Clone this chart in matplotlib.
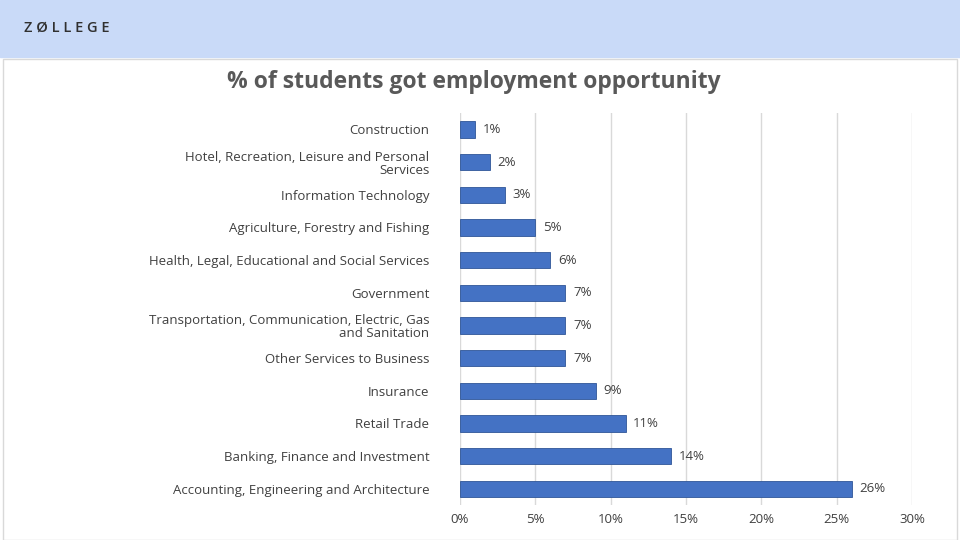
import matplotlib
matplotlib.use("Agg")
import matplotlib.pyplot as plt
from matplotlib.patches import Rectangle

categories = ["Construction", "Hotel, Recreation, Leisure and Personal\nServices",
              "Information Technology", "Agriculture, Forestry and Fishing",
              "Health, Legal, Educational and Social Services", "Government",
              "Transportation, Communication, Electric, Gas\nand Sanitation",
              "Other Services to Business", "Insurance", "Retail Trade",
              "Banking, Finance and Investment", "Accounting, Engineering and Architecture"]
values = [1, 2, 3, 5, 6, 7, 7, 7, 9, 11, 14, 26]
xticks = [0, 5, 10, 15, 20, 25, 30]

plt.rcParams['font.family'] = ['Open Sans', 'DejaVu Sans']
fig = plt.figure(figsize=(9.6, 5.4), dpi=100)
fig.patches.append(Rectangle((0, 1 - 57/540), 1, 57/540, transform=fig.transFigure,
                             color='#c9daf8', zorder=-10))
fig.patches.append(Rectangle((3/960, 0), 954/960, (540-59)/540, transform=fig.transFigure,
                             facecolor='white', edgecolor='#d9d9d9', lw=1, zorder=-10))
fig.text(24/960, 1 - 28/540, "Z Ø L L E G E", fontsize=10.5, color='#303030', va='center',
         fontweight='semibold')
fig.text(474/960, 1 - 82/540, "% of students got employment opportunity", fontsize=16.5,
         fontweight='bold', color='#595959', ha='center', va='center')

ax = fig.add_axes([460/960, 1 - 505/540, (912-460)/960, (505-113)/540])
ax.patch.set_alpha(0)
y = list(range(len(categories)))
ax.barh(y, values, height=0.5, color='#4472c4', edgecolor='#2f5597', lw=0.6, zorder=3)
for yi, v in zip(y, values):
    ax.text(v + 0.5, yi, f"{v}%", va='center', ha='left', fontsize=9.5, color='#404040')
ax.set_yticks(y)
ax.set_yticklabels(categories, fontsize=9.5, color='#404040', linespacing=1.0)
ax.set_ylim(len(categories) - 0.5, -0.5)
ax.set_xlim(0, 30)
ax.set_xticks(xticks)
ax.set_xticklabels([f"{t}%" for t in xticks], fontsize=9.5, color='#404040')
ax.grid(axis='x', color='#d9d9d9', lw=1, zorder=0)
ax.set_axisbelow(True)
for s in ax.spines.values():
    s.set_visible(False)
ax.tick_params(length=0, pad=6)
ax.tick_params(axis='y', pad=22)
fig.savefig("out.png", dpi=100)
